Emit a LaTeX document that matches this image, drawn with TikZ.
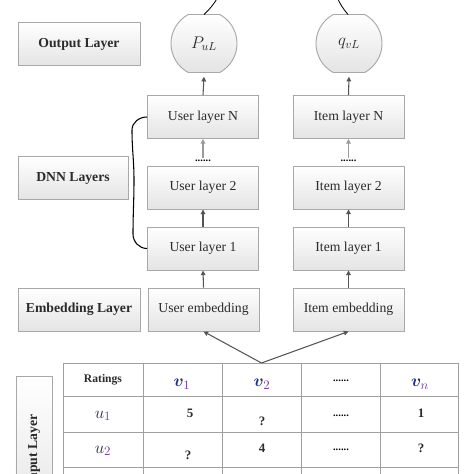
\documentclass[tikz,border=0pt]{standalone}
\usepackage{fontspec}
\setmainfont{Liberation Serif}
\usepackage{bm}
\usepackage{xcolor}
\usetikzlibrary{calc,arrows.meta}
\definecolor{bg}{HTML}{FFFFFF}
\definecolor{boxline}{HTML}{A8A8A8}
\definecolor{boxfill}{HTML}{E4E4E4}
\definecolor{text}{HTML}{2B2B2B}
\definecolor{arrowc}{HTML}{555555}
\definecolor{arrowl}{HTML}{9A9A9A}
\definecolor{gridc}{HTML}{A0A0A0}
\definecolor{vblue}{HTML}{1E2C8A}
\definecolor{subpur}{HTML}{7B3F9E}
\tikzset{
  x=0.03cm, y=-0.03cm,
  layer/.style={draw=boxline, line width=0.8pt, top color=white, bottom color=boxfill,
    minimum width=3.33cm, minimum height=1.29cm, text=text, font=\fontsize{11.7}{14}\selectfont},
  tag/.style={layer, minimum width=3.66cm, font=\fontsize{11.7}{14}\selectfont\bfseries},
  ball/.style={circle, minimum size=1.98cm, inner sep=0pt, text=text, font=\fontsize{14}{16}\selectfont},
  up/.style={-{Triangle[length=4pt,width=4pt]}, draw=arrowc, line width=0.9pt},
  upl/.style={up, draw=arrowl},
  grid/.style={draw=gridc, line width=0.8pt},
  cell/.style={font=\fontsize{11}{13}\selectfont\bfseries, text=text},
  hd/.style={font=\fontsize{15}{17}\selectfont, text=vblue},
  dots/.style={font=\small\bfseries, inner sep=0pt},
}
% chopped ball round an output node
\newcommand{\cutball}[1]{%
  \draw[boxline, line width=0.8pt, top color=white, bottom color=boxfill]
    ($(#1)+(-61.5:33)$) arc[start angle=-61.5, end angle=61.5, radius=33]
    -- ($(#1)+(118.5:33)$) arc[start angle=118.5, end angle=241.5, radius=33] -- cycle;}

\begin{document}
\begin{tikzpicture}
  \useasboundingbox[fill=bg] (0,0) rectangle (474,474);

  % left hand tags
  \node[tag] (otag) at (79,44) {Output Layer};
  \node[tag, minimum width=3.3cm] (dtag) at (73,178) {DNN Layers};
  \node[tag] (etag) at (79,309.5) {Embedding Layer};
  \node[tag, minimum width=4.44cm, minimum height=1.08cm, rotate=90] (itag) at (34,450) {Input Layer};

  % output balls
  \cutball{204,43.5}
  \cutball{349,43.5}
  \node[ball] (pu) at (204,43.5) {$P_{uL}$};
  \node[ball] (qv) at (349,43.5) {$q_{vL}$};
  \coordinate (putop) at (204,14.5);
  \coordinate (qvtop) at (348,14.5);
  \coordinate (pend) at (218,-3);
  \coordinate (qend) at (337,-3);
  \draw[black, line width=0.7pt] (putop) to[bend right=8] (pend);
  \draw[black, line width=0.7pt] (qvtop) to[bend left=8] (qend);

  % user tower
  \node[layer] (un) at (203,117) {User layer N};
  \node[dots] (ud) at (203,161) {......};
  \node[layer] (u2) at (203,187.5) {User layer 2};
  \node[layer] (u1) at (203,248.5) {User layer 1};
  \node[layer] (ue) at (203.5,309.5) {User embedding};

  % item tower
  \node[layer] (in) at (348.5,117) {Item layer N};
  \node[dots] (id) at (348.5,161) {......};
  \node[layer] (i2) at (348.5,187.5) {Item layer 2};
  \node[layer] (i1) at (348.5,248.5) {Item layer 1};
  \node[layer] (ie) at (348.5,309.5) {Item embedding};

  \draw[up] (un.north) -- (pu.south);
  \draw[up] (in.north) -- (qv.south);
  \draw[upl] (ud.north) ++(0,-2) -- (un.south);
  \draw[upl] (id.north) ++(0,-2) -- (in.south);
  \draw[up] (u2.south |- u1.north) -- (u2.south);
  \draw[up] (i2.south |- i1.north) -- (i2.south);
  \draw[up] (ue.north) -- (u1.south);
  \draw[up] (ie.north) -- (i1.south);

  % bracket over the dnn layers
  \coordinate (bt) at (132,130);
  \coordinate (bb) at (133,234);
  \draw[black, line width=0.9pt] (un.west) to[out=180,in=90] (bt)
    to[out=-90,in=90] (134,180) to[out=-90,in=90] (bb) to[out=-90,in=180] (u1.west);

  % ratings table
  \foreach \x in {63,143,222,301,380,458}
    \draw[grid] (\x,363) -- (\x,480);
  \foreach \y in {363,396,432,467}
    \draw[grid] (63,\y) -- (458,\y);
  \coordinate (tt) at (261.5,363);
  \draw[up] (tt) -- (ue.south);
  \draw[up] (tt) -- (ie.south);

  \node[cell, font=\fontsize{9.9}{12}\selectfont\bfseries] (rt) at (103,380) {Ratings};
  \node[hd] (v1) at (182,384) {$\bm{v}_{\textcolor{subpur}{1}}$};
  \node[hd] (v2) at (262,384) {$\bm{v}_{\textcolor{subpur}{2}}$};
  \node[dots] (vd) at (341,381) {......};
  \node[hd] (vn) at (420,384) {$\bm{v}_{\textcolor{subpur}{n}}$};

  \node[hd, text=text!80!vblue] (r1) at (103,416) {$u_{\textcolor{subpur}{1}}$};
  \node[cell] (c11) at (190,413) {5};
  \node[cell] (c12) at (262,421) {?};
  \node[dots] (c13) at (341,416) {......};
  \node[cell] (c14) at (421,413) {1};

  \node[hd, text=text!80!vblue] (r2) at (103,451) {$u_{\textcolor{subpur}{2}}$};
  \node[cell] (c21) at (188,455) {?};
  \node[cell] (c22) at (262,448) {4};
  \node[dots] (c23) at (341,450) {......};
  \node[cell] (c24) at (421,448) {?};
\end{tikzpicture}
\end{document}
